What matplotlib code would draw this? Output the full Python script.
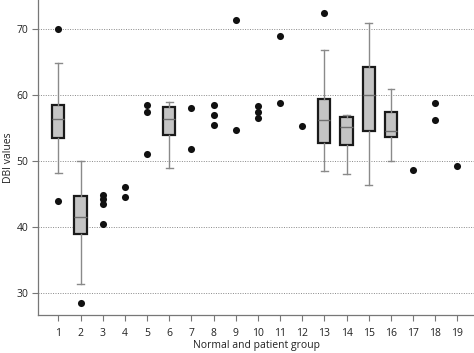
import matplotlib
matplotlib.use("Agg")
import matplotlib.pyplot as plt

plt.rcParams['font.family'] = ['Open Sans', 'DejaVu Sans']

# Box-plot groups: (position, whisker low, q1, median, q3, whisker high)
box_groups = [1, 2, 6, 13, 14, 15, 16]
box_whislo = [48.2, 31.3, 48.9, 48.5, 48.05, 46.35, 50.0]
box_q1 = [53.5, 38.85, 53.9, 52.7, 52.5, 54.5, 53.6]
box_med = [56.3, 41.5, 56.4, 56.2, 55.2, 60.0, 54.6]
box_q3 = [58.45, 44.65, 58.15, 59.35, 56.7, 64.2, 57.5]
box_whishi = [64.9, 50.0, 59.0, 66.9, 57.0, 71.0, 60.9]

# Individual points (outliers and small groups)
pt_group = [1, 1, 2,
            3, 3, 3, 3,
            4, 4,
            5, 5, 5,
            7, 7,
            8, 8, 8,
            9, 9,
            10, 10, 10,
            11, 11,
            12,
            13,
            17,
            18, 18,
            19]
pt_value = [70.0, 43.9, 28.5,
            44.8, 44.2, 43.5, 40.4,
            46.1, 44.5,
            58.45, 57.5, 51.0,
            58.1, 51.8,
            58.45, 57.0, 55.4,
            71.4, 54.65,
            58.3, 57.4, 56.5,
            69.0, 58.85,
            55.35,
            72.5,
            48.7,
            58.75, 56.2,
            49.2]

group_labels = [str(i) for i in range(1, 20)]
y_ticks = [30, 40, 50, 60, 70]

fig = plt.figure(figsize=(4.74, 3.53), dpi=100)
ax = fig.add_axes([0.081, 0.1076, 0.919, 0.8924])

for y in y_ticks:
    ax.axhline(y, color='#888888', linestyle=(0, (1, 1.5)), linewidth=0.7, zorder=0)

stats = []
for g, lo, q1, med, q3, hi in zip(box_groups, box_whislo, box_q1, box_med, box_q3, box_whishi):
    stats.append(dict(whislo=lo, q1=q1, med=med, q3=q3, whishi=hi, fliers=[]))

ax.bxp(stats, positions=box_groups, widths=0.55, patch_artist=True,
       showfliers=False,
       boxprops=dict(facecolor='#c4c4c4', edgecolor='#1a1a1a', linewidth=1.6),
       medianprops=dict(color='#707070', linewidth=1.0),
       whiskerprops=dict(color='#8a8a8a', linewidth=1.0),
       capprops=dict(color='#8a8a8a', linewidth=1.0),
       capwidths=0.3, manage_ticks=False, zorder=3)

ax.scatter(pt_group, pt_value, s=26, color='#111111', zorder=4, linewidths=0)

ax.set_xlim(0.1, 19.75)
ax.set_ylim(26.6, 74.45)
ax.set_xticks(range(1, 20))
ax.set_xticklabels(group_labels)
ax.set_yticks(y_ticks)

for s in ['top', 'right']:
    ax.spines[s].set_visible(False)
for s in ['left', 'bottom']:
    ax.spines[s].set_color('#777777')
    ax.spines[s].set_linewidth(0.9)
ax.tick_params(axis='both', colors='#777777', labelcolor='#222222', labelsize=7.5,
               length=4, width=0.8)
ax.tick_params(axis='x', pad=5)
ax.tick_params(axis='y', pad=3)

ax.set_xlabel('Normal and patient group', fontsize=7.5, color='#222222', va='center')
ax.xaxis.set_label_coords(0.5, -0.097)
ax.set_ylabel('DBI values', fontsize=7.5, color='#222222', labelpad=2)

fig.savefig('out.png', dpi=100)
